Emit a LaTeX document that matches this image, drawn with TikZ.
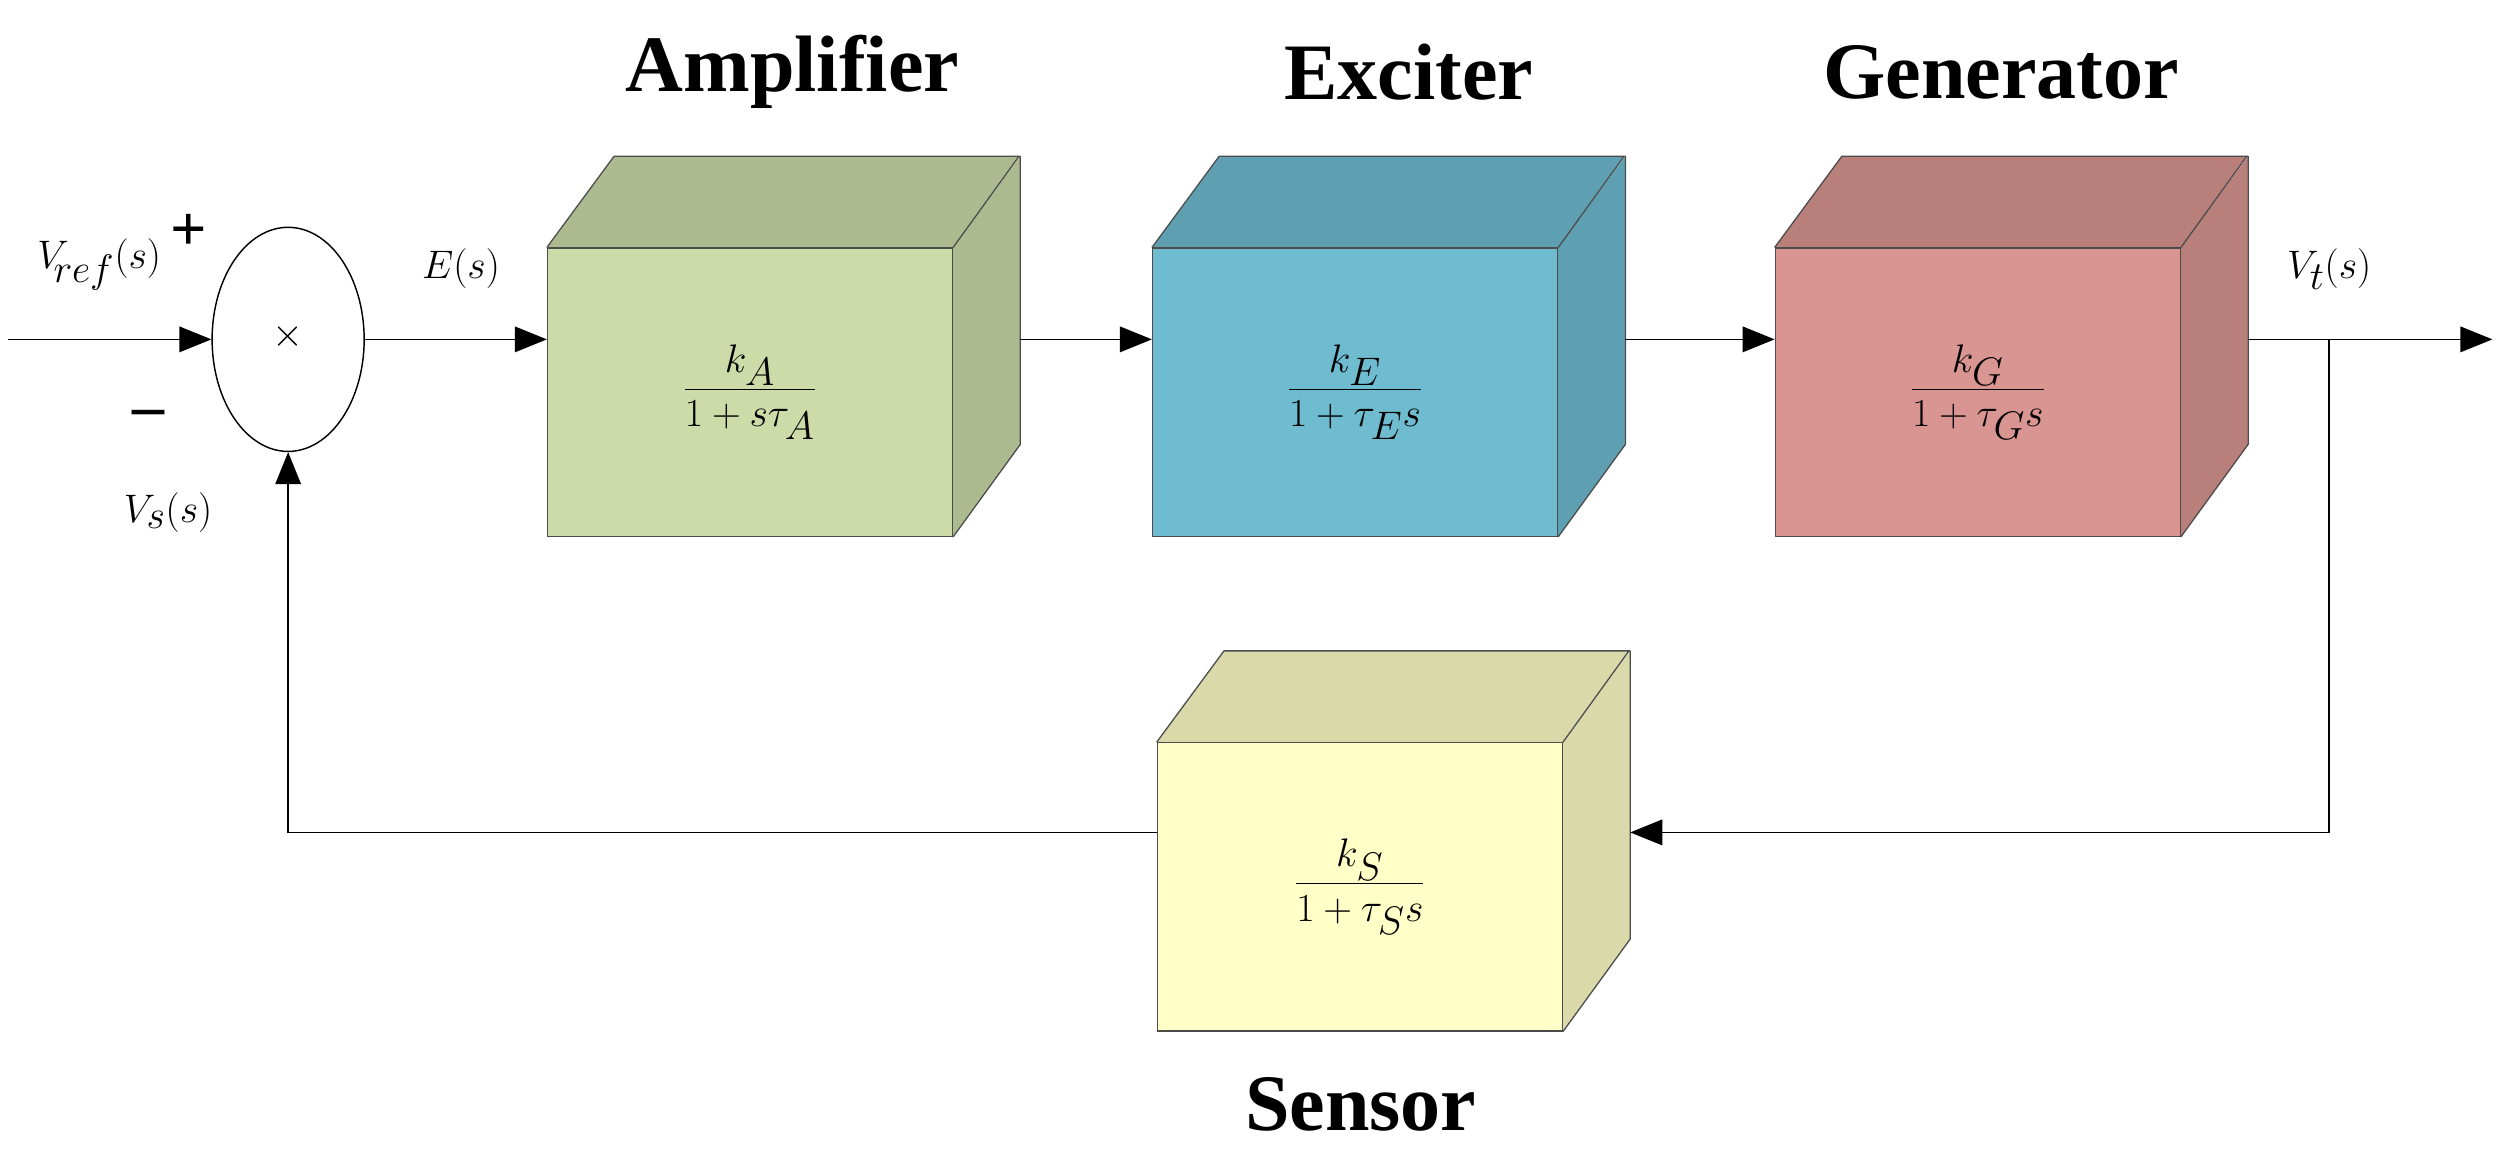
\documentclass[tikz,border=0pt]{standalone}
\usepackage{fontspec}
\setmainfont{Liberation Serif}
\usetikzlibrary{arrows.meta,shapes.geometric,calc}
\definecolor{cA}{HTML}{CCDBA8}
\definecolor{cE}{HTML}{6FBCD0}
\definecolor{cG}{HTML}{D99591}
\definecolor{cS}{HTML}{FFFFC8}
\tikzset{
 front/.style={draw=black!70,line width=0.8pt,minimum width=253pt,minimum height=180pt,inner sep=0pt},
 title/.style={font=\fontsize{50}{56}\selectfont\bfseries},
 lab/.style={font=\fontsize{40}{46}\selectfont},
 wire/.style={line width=0.9pt},
 arr/.style={wire,-{Triangle[length=20pt,width=16pt]}}
}
\newcommand{\cube}[3]{%
 \fill[#2!85!black] (#1.north west) -- ++(42,-57) -- ++(253,0) -- (#1.north east) -- cycle;
 \fill[#2!85!black] (#1.north east) -- ++(42,-57) -- ++(0,180) -- (#1.south east) -- cycle;
 \draw[black!70,line width=0.8pt] (#1.north west) -- ++(42,-57) -- ++(253,0) -- (#1.north east) (#1.north east)++(42,-57) -- ++(0,180) -- (#1.south east);
 \node[front,fill=#2] at (#1) {\fontsize{52}{60}\selectfont$\displaystyle #3$};}
\begin{document}
\begin{tikzpicture}[x=1pt,y=-1pt]
\useasboundingbox (0,0) rectangle (1568,734);
\node[front] (A) at (468.5,245) {}; \cube{A}{cA}{\frac{k_A}{1+s\tau_A}}
\node[front] (E) at (846.5,245) {}; \cube{E}{cE}{\frac{k_E}{1+\tau_E s}}
\node[front] (G) at (1235.5,245) {}; \cube{G}{cG}{\frac{k_G}{1+\tau_G s}}
\node[front] (S) at (849.5,554) {}; \cube{S}{cS}{\frac{k_S}{1+\tau_S s}}
\node[title] at (495,45) {Amplifier};
\node[title] at (880,45) {Exciter};
\node[title] at (1250,45) {Generator};
\node[title] at (850,690) {Sensor};
\node[draw,ellipse,minimum width=95pt,minimum height=140pt,line width=0.9pt] (sum) at (180,212) {};
\node[font=\fontsize{56}{60}\selectfont] at (180,210) {$\times$};
\coordinate (in) at (5,212);
\coordinate (out) at (1557,212);
\coordinate (br) at (1455,212);
\coordinate (br2) at (1455,520);
\coordinate (fb) at (180,520);
\draw[arr] (in) -- (sum.west);
\draw[arr] (sum.east) -- (A.west |- in);
\draw[arr] ($(A.east)+(42,-33)$) -- (E.west |- in);
\draw[arr] ($(E.east)+(42,-33)$) -- (G.west |- in);
\draw[arr] ($(G.east)+(42,-33)$) -- (out);
\draw[arr] (br) -- (br2) -- ($(S.east)+(42,-34)$);
\draw[arr] (S.west |- fb) -- (fb) -- (sum.south);
\node[lab] at (62,165) {$V_{\!ref}(s)$};
\node[font=\fontsize{40}{46}\selectfont\bfseries] at (118,145) {+};
\node[font=\fontsize{40}{46}\selectfont\bfseries] at (93,262) {--};
\node[lab] at (105,320) {$V_s(s)$};
\node[lab] at (288,168) {$E(s)$};
\node[lab] at (1455,168) {$V_t(s)$};
\end{tikzpicture}
\end{document}
